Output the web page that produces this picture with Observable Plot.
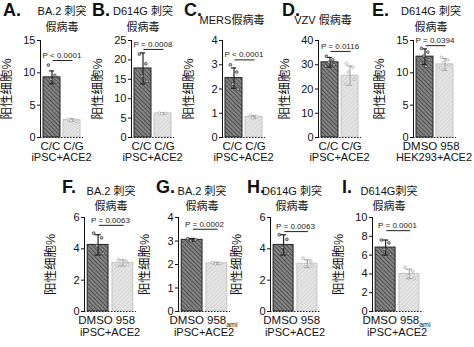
<!DOCTYPE html>
<html><head><meta charset="utf-8">
<script src="https://cdn.jsdelivr.net/npm/d3@7"></script>
<script src="https://cdn.jsdelivr.net/npm/@observablehq/plot@0.6"></script>
<style>
body{margin:0;background:#fff;}
#fig{position:relative;width:474px;height:347px;overflow:hidden;font-family:"Liberation Sans",Arial,"Noto Sans CJK SC",sans-serif;color:#111;}
.lab{position:absolute;font-weight:bold;font-size:18px;line-height:18px;}
.ttl{position:absolute;font-size:11px;text-align:center;line-height:15px;white-space:nowrap;width:100px;}
.grp{position:absolute;font-size:11px;text-align:center;white-space:nowrap;width:100px;line-height:13px;}
.pnl{position:absolute;}
</style></head><body>
<svg width="0" height="0" style="position:absolute">
<defs>
<pattern id="hatchDark" patternUnits="userSpaceOnUse" width="3" height="3" patternTransform="rotate(-45)">
<rect width="3" height="3" fill="#858585"/>
<line x1="0" y1="0" x2="0" y2="3" stroke="#2e2e2e" stroke-width="1.3"/>
</pattern>
<pattern id="hatchLight" patternUnits="userSpaceOnUse" width="3" height="3" patternTransform="rotate(45)">
<rect width="3" height="3" fill="#e4e4e4"/>
<line x1="0" y1="0" x2="0" y2="3" stroke="#c9c9c9" stroke-width="1"/>
</pattern>
</defs></svg>
<div id="fig"></div>
<script>
// ---- data ----
const panelIds = ["A.","B.","C.","D.","E.","F.","G.","H.","I."];
const titles = [["BA.2 刺突","假病毒"],["D614G 刺突","假病毒"],["MERS假病毒"],["VZV 假病毒"],["D614G 刺突","假病毒"],
                ["BA.2 刺突","假病毒"],["BA.2 刺突","假病毒"],["D614G 刺突","假病毒"],["D614G刺突","假病毒"]];
const categories = [["C/C","C/G"],["C/C","C/G"],["C/C","C/G"],["C/C","C/G"],["DMSO","958"],
                    ["DMSO","958"],["DMSO","958ami"],["DMSO","958"],["DMSO","958ami"]];
const groupLabels = ["iPSC+ACE2","iPSC+ACE2","iPSC+ACE2","iPSC+ACE2","HEK293+ACE2",
                     "iPSC+ACE2","iPSC+ACE2","iPSC+ACE2","iPSC+ACE2"];
const yLabel = "阳性细胞%";
const means  = [[9.3,2.7],[17.8,6.2],[2.45,0.85],[31,25.5],[12.5,11.3],[4.25,3.1],[3.05,2.05],[4.25,3.05],[6.8,4.0]];
const errors = [[1.0,0.2],[4.0,0.2],[0.42,0.06],[2.0,4.0],[1.2,0.9],[0.65,0.2],[0.06,0.05],[0.65,0.25],[0.8,0.5]];
const yMax   = [15,25,4,40,15,6,4,6,10];
const yTicks = [[0,5,10,15],[0,5,10,15,20,25],[0,1,2,3,4],[0,10,20,30,40],[0,5,10,15],
                [0,2,4,6],[0,1,2,3,4],[0,2,4,6],[0,2,4,6,8,10]];
const pLabels = ["P < 0.0001","P = 0.0008","P < 0.0001","P = 0.0116","P = 0.0394",
                 "P = 0.0063","P = 0.0002","P = 0.0063","P = 0.0001"];
const pLevels = [11.9,22.7,3.2,35.5,14.2,5.5,3.5,5.1,8.6];
const pointsA = [[11.2,9.6,9.0,8.6],[2.8,2.7,2.6,2.5]];
const pointsB = [[21.5,19,15.8,14.5],[6.3,6.2,6.1]];
const pointsC = [[3.0,2.7,2.2,2.0],[0.9,0.85,0.8]];
const pointsD = [[33.5,32,31,30,29.5],[30.5,29,27,24,22]];
const pointsE = [[13.8,13.2,12.6,12,11.5,11],[12.4,12,11.6,11.2,10.8]];
const pointsF = [[5.0,4.7,4.2,3.7],[3.3,3.2,3.1,3.0,2.9]];
const pointsG = [[3.1,3.05,3.0],[2.08,2.05,2.02]];
const pointsH = [[4.9,4.6,4.1,3.7],[3.4,3.2,3.0,2.9]];
const pointsI = [[7.6,7.3,6.6,6.1],[4.7,4.3,3.8,3.5]];
const points = [pointsA,pointsB,pointsC,pointsD,pointsE,pointsF,pointsG,pointsH,pointsI];

// ---- layout (pixels) ----
const axisX = [40,131,222,318,413, 84,178,270,372];
const rows = [
  {top:40, h:97, letterY:1, titleY:3, lh:16, grpY:151, dom:[-0.575,1.575], half:0.425},
  {top:217, h:94, letterY:178, titleY:184, lh:15, grpY:326, dom:[-0.55,1.55], half:0.42}
];
const plotW = [43,43,43,43,43, 52,52,50,50];
const letterX = [3,92,184,282,372, 62,156,247,342];
const titleCX = [62,143,232,323,431, 111,202,292,389];
const jitter = [-0.18,0.14,-0.06,0.2,-0.22,0.05];

const fig = document.getElementById("fig");
const ML = 50, MR = 8, MT = 12, MB = 30;

panelIds.forEach((id,i) => {
  const row = rows[i < 5 ? 0 : 1];
  const cats = categories[i];
  const bars = cats.map((c,j) => ({j, c, m: means[i][j], e: errors[i][j]}));
  const pts = points[i].flatMap((arr,j) => arr.map((v,k) => ({x: j + jitter[k % jitter.length], v, j})));
  const hw = row.half;
  const svg = Plot.plot({
    width: ML + plotW[i] + MR, height: MT + row.h + MB,
    marginLeft: ML, marginRight: MR, marginTop: MT, marginBottom: MB,
    style: {background:"transparent", overflow:"visible", fontFamily:'"Liberation Sans",Arial,"Noto Sans CJK SC",sans-serif', fontSize:"11px", color:"#111"},
    x: {domain:row.dom, ticks:[0,1], tickFormat: j => cats[j], tickSize:0, tickPadding:4, label:null},
    y: {domain:[0,yMax[i]], ticks:yTicks[i], tickFormat: d => String(d), tickSize:3, tickPadding:2, label:yLabel, labelAnchor:"center", labelArrow:"none", labelOffset:38, line:true},
    marks: [
      Plot.rectY(bars.filter(d => d.j === 0), {x1: d => d.j - hw, x2: d => d.j + hw, y: "m", fill:"url(#hatchDark)", stroke:"#222", strokeWidth:1}),
      Plot.rectY(bars.filter(d => d.j === 1), {x1: d => d.j - hw, x2: d => d.j + hw, y: "m", fill:"url(#hatchLight)", stroke:"#c4c4c4", strokeWidth:1}),
      Plot.ruleY([0], {stroke:"#222", strokeDasharray:"1.5,1.5"}),
      Plot.ruleX(bars, {x:"j", y1: d => d.m - d.e, y2: d => d.m + d.e, stroke: d => d.j ? "#aaa" : "#222", strokeWidth:1.2}),
      Plot.ruleY(bars, {y: d => d.m + d.e, x1: d => d.j - 0.13, x2: d => d.j + 0.13, stroke: d => d.j ? "#aaa" : "#222", strokeWidth:1.2}),
      Plot.ruleY(bars, {y: d => d.m - d.e, x1: d => d.j - 0.13, x2: d => d.j + 0.13, stroke: d => d.j ? "#aaa" : "#222", strokeWidth:1.2}),
      Plot.dot(pts, {x:"x", y:"v", r:1.4, fill: d => d.j ? "#f2f2f2" : "#bbb", stroke: d => d.j ? "#aaa" : "#333", strokeWidth:0.7}),
      Plot.ruleY([pLevels[i]], {x1: 0.05, x2: 1.05, stroke:"#222", strokeWidth:1}),
      Plot.text([pLabels[i]], {x: 0.5, y: pLevels[i], text: d => d, dy: -5, fontSize: 8, fill:"#222"})
    ]
  });
  // subscript
  svg.querySelectorAll("text").forEach(t => {
    if (t.textContent === "958ami") {
      t.textContent = "958";
      const ts = document.createElementNS("http://www.w3.org/2000/svg","tspan");
      ts.setAttribute("font-size","7");
      ts.setAttribute("dy","3");
      ts.textContent = "ami";
      t.appendChild(ts);
    }
  });
  const yl = svg.querySelector("g[aria-label='y-axis label']");
  if (yl) yl.setAttribute("font-size","12.5");
  const xt = svg.querySelector("g[aria-label='x-axis tick label']");
  if (xt) xt.setAttribute("font-size","11.5");
  const wrap = document.createElement("div");
  wrap.className = "pnl";
  wrap.style.left = (axisX[i] - ML) + "px";
  wrap.style.top = (row.top - MT) + "px";
  wrap.appendChild(svg);
  fig.appendChild(wrap);
  // separate overlapping category labels
  if (xt) {
    const ts = xt.querySelectorAll("text");
    if (ts.length === 2) {
      const b0 = ts[0].getBoundingClientRect(), b1 = ts[1].getBoundingClientRect();
      const need = (b0.right + 3) - b1.left;
      if (need > 0) {
        ts[0].setAttribute("dx", -need / 2);
        ts[1].setAttribute("dx", need / 2);
      }
    }
  }

  const lab = document.createElement("div");
  lab.className = "lab"; lab.textContent = id;
  lab.style.left = letterX[i] + "px"; lab.style.top = row.letterY + "px";
  fig.appendChild(lab);

  const tt = document.createElement("div");
  tt.className = "ttl";
  tt.style.lineHeight = row.lh + "px";
  tt.innerHTML = titles[i].join("<br>");
  tt.style.left = (titleCX[i] - 50) + "px";
  tt.style.top = (titles[i].length === 1 ? row.titleY + 9 : row.titleY) + "px";
  fig.appendChild(tt);

  const cx = axisX[i] + plotW[i] / 2;
  const g = document.createElement("div");
  g.className = "grp"; g.textContent = groupLabels[i];
  g.style.left = (Math.min(cx, 434) - 50) + "px"; g.style.top = row.grpY + "px";
  fig.appendChild(g);
});
</script>
</body></html>
